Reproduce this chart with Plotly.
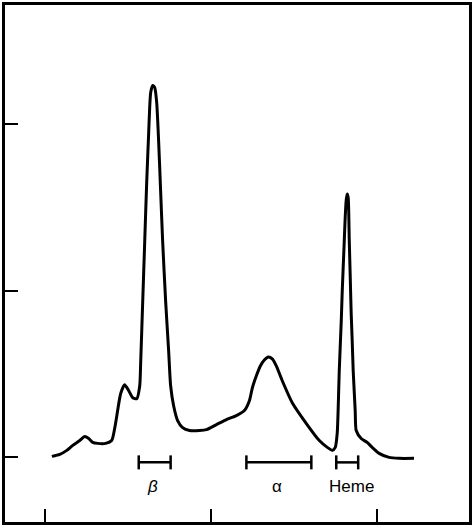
import plotly.graph_objects as go

# Chromatogram trace (elution position, absorbance) in axis units
elution = [0.042, 0.090, 0.132, 0.168, 0.210, 0.240, 0.264, 0.288, 0.318, 0.366,
           0.402, 0.420, 0.438, 0.456, 0.480, 0.505, 0.529, 0.553, 0.571, 0.577,
           0.589, 0.601, 0.613, 0.625, 0.631, 0.637, 0.649, 0.661, 0.673, 0.685,
           0.697, 0.709, 0.727, 0.745, 0.757, 0.775, 0.799, 0.829, 0.871, 0.931,
           0.973, 1.033, 1.093, 1.153, 1.201, 1.231, 1.249, 1.273, 1.297, 1.321,
           1.345, 1.369, 1.393, 1.429, 1.489, 1.574, 1.652, 1.700, 1.730, 1.748,
           1.760, 1.766, 1.772, 1.784, 1.790, 1.802, 1.808, 1.814, 1.820, 1.826,
           1.832, 1.838, 1.844, 1.850, 1.856, 1.868, 1.874, 1.904, 1.940, 1.970,
           2.012, 2.072, 2.132, 2.222]
absorbance = [0.006, 0.018, 0.042, 0.072, 0.101, 0.125, 0.113, 0.090, 0.084, 0.084,
              0.101, 0.173, 0.281, 0.382, 0.436, 0.400, 0.358, 0.352, 0.430, 0.579,
              0.937, 1.296, 1.654, 1.952, 2.101, 2.191, 2.233, 2.221, 2.131, 1.893,
              1.594, 1.296, 0.937, 0.639, 0.430, 0.310, 0.221, 0.179, 0.161, 0.161,
              0.167, 0.197, 0.227, 0.251, 0.281, 0.340, 0.418, 0.490, 0.549, 0.585,
              0.603, 0.591, 0.549, 0.460, 0.328, 0.203, 0.101, 0.060, 0.042, 0.060,
              0.149, 0.310, 0.519, 0.818, 0.997, 1.296, 1.445, 1.546, 1.582, 1.558,
              1.313, 1.087, 0.860, 0.699, 0.519, 0.281, 0.161, 0.113, 0.090, 0.060,
              0.024, 0.000, -0.006, -0.006]

# Fraction ranges
fraction_labels = ["<i>β</i>", "α", "Heme"]
fraction_start = [0.565, 1.213, 1.754]
fraction_end = [0.757, 1.604, 1.886]
label_pos = [0.649, 1.399, 1.844]
bar_level = -0.030
label_level = -0.173

tick_vals = [0, 1, 2]

fig = go.Figure()
fig.add_trace(go.Scatter(x=elution, y=absorbance, mode="lines",
                         line=dict(color="black", width=3, shape="spline", smoothing=0.6),
                         hoverinfo="skip", showlegend=False))

annotations = []
for lab, s, e, lx in zip(fraction_labels, fraction_start, fraction_end, label_pos):
    fig.add_trace(go.Scatter(x=[s, e], y=[bar_level, bar_level], mode="lines+markers",
                             line=dict(color="black", width=2.5),
                             marker=dict(symbol="line-ns", size=10,
                                         line=dict(color="black", width=2.5)),
                             showlegend=False, hoverinfo="skip"))
    annotations.append(dict(x=lx, y=label_level, xref="x", yref="y",
                            text=lab, showarrow=False,
                            font=dict(family="Liberation Sans, Arial, sans-serif",
                                      size=17, color="black")))

fig.update_layout(
    width=474, height=526,
    margin=dict(l=5, r=4, t=2, b=4),
    paper_bgcolor="white", plot_bgcolor="white",
    annotations=annotations,
    xaxis=dict(range=[-0.240, 2.553], tickvals=tick_vals, showticklabels=False,
               ticks="inside", ticklen=13, tickwidth=2, tickcolor="black",
               showline=True, linecolor="black", linewidth=3, mirror=True,
               showgrid=False, zeroline=False),
    yaxis=dict(range=[-0.388, 2.716], tickvals=tick_vals, showticklabels=False,
               ticks="inside", ticklen=13, tickwidth=2, tickcolor="black",
               showline=True, linecolor="black", linewidth=3, mirror=True,
               showgrid=False, zeroline=False),
)

fig.write_html("out.html", config={"displayModeBar": False},
               post_script="document.body.style.margin='0px';document.body.style.overflow='hidden';")
